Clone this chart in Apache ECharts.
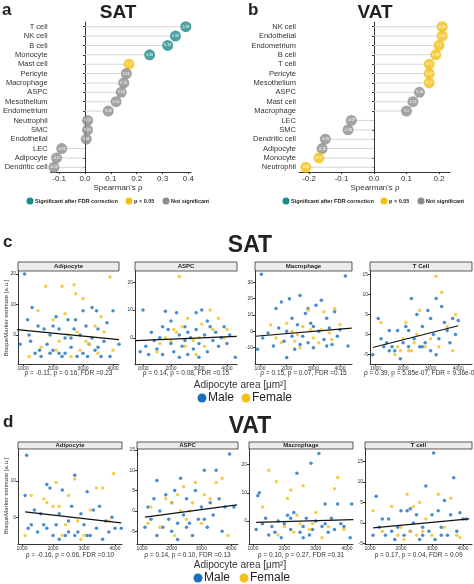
<!DOCTYPE html>
<html><head><meta charset="utf-8">
<script src="https://cdn.jsdelivr.net/npm/echarts@6/dist/echarts.min.js"></script>
<style>html,body{margin:0;padding:0;background:#fff}#c{width:474px;height:584px}</style>
</head><body><div id="c"></div>
<script>
// ---------- DATA ----------
const satCells = ["T cell","NK cell","B cell","Monocyte","Mast cell","Pericyte","Macrophage","ASPC","Mesothelium","Endometrium","Neutrophil","SMC","Endothelial","LEC","Adipocyte","Dendritic cell"];
const satRho = [0.39,0.35,0.32,0.25,0.17,0.16,0.15,0.14,0.12,0.09,0.01,0.01,0.005,-0.09,-0.11,-0.12];
const satSig = ["fdr","fdr","fdr","fdr","p","ns","ns","ns","ns","ns","ns","ns","ns","ns","ns","ns"];
const vatCells = ["NK cell","Endothelial","Endometrium","B cell","T cell","Pericyte","Mesothelium","ASPC","Mast cell","Macrophage","LEC","SMC","Dendritic cell","Adipocyte","Monocyte","Neutrophil"];
const vatRho = [0.21,0.21,0.2,0.19,0.17,0.17,0.17,0.14,0.12,0.1,-0.07,-0.08,-0.15,-0.16,-0.17,-0.21];
const vatSig = ["p","p","p","p","p","p","p","ns","ns","ns","ns","ns","ns","ns","p","p"];
const sigLabels = ["Significant after FDR correction","p < 0.05","Not significant"];

const panelTitles = ["Adipocyte","ASPC","Macrophage","T Cell","Adipocyte","ASPC","Macrophage","T cell"];
const statTexts = ["ρ = -0.11, p = 0.16, FDR =0.23","ρ = 0.14, p = 0.08, FDR =0.15","ρ = 0.15, p = 0.07, FDR =0.15","ρ = 0.39, p = 5.85e-07, FDR = 9.36e-06",
"ρ = -0.16, p = 0.06, FDR =0.10","ρ = 0.14, p = 0.10, FDR =0.13","ρ = 0.10, p = 0.27, FDR =0.31","ρ = 0.17, p = 0.04, FDR = 0.09"];
const xTicks = [1000,2000,3000,4000];
const yTicks = [[0,10,20],[0,10,20],[-10,0,10,20,30],[-5,0,5,10,15],[0,10],[-5,0,5,10,15],[0,10,20],[-5,0,5,10,15]];
const fitLines = [
 [[800,1.8],[4200,-1.5]],[[750,-1],[4350,0.5]],[[820,-3],[4440,2]],[[900,-3.2],[4000,2.2]],
 [[1100,1.5],[4200,-1.5]],[[1100,-1.5],[4200,1.5]],[[1100,-0.5],[4200,0.5]],[[1100,-1.2],[4200,1]]];
const male = [
[[1050,20],[900,-3],[1150,5],[1200,0],[1300,9],[1250,-2],[1500,3],[1550,-5],[1600,-7],[1700,2],[1800,-3],[1900,0],[2000,-5],[2100,6],[2200,-6],[2300,-7],[2400,-1],[2500,5],[2600,-4],[2700,2],[2800,-7],[2900,0],[3000,-6],[3000,8],[3100,3],[3200,-3],[3300,9],[3400,-5],[3500,2],[3600,-7],[3700,-2],[3800,4],[3900,-7],[4000,8],[4200,-3],[2200,2],[2600,-1],[3300,-1],[1900,-6],[3500,-4],[2400,-6],[2750,5],[3150,-7],[3450,8],[1400,-6],[2000,3]],
[[1000,10],[900,-5],[1100,-3],[1200,-6],[1300,2],[1400,-1],[1500,-4],[1600,0],[1700,-6],[1800,9.5],[1900,3],[2000,-2],[2000,6],[2100,-5],[2200,9],[2300,1],[2400,-3],[2500,4],[2600,-6],[2600,2],[2700,0],[2800,-4],[2900,3],[2900,9],[3000,-2],[3100,10],[3200,1],[3300,-5],[3400,4],[3500,-1],[3600,2],[3700,-3],[3800,0],[3900,4],[4000,-2],[4100,1],[4300,-7],[2300,-7],[3000,-7],[1700,4],[2500,-1],[3300,6]],
[[1050,35],[900,-11],[1100,-4],[1300,-1],[1500,-9],[1600,14],[1700,2],[1800,18],[1900,-6],[2000,-16],[2100,20],[2200,8],[2300,-11],[2400,4],[2500,22],[2600,-3],[2700,11],[2800,-7],[2900,5],[3000,-10],[3100,16],[3200,0],[3300,19],[3400,-5],[3500,8],[3600,2],[3700,-8],[3800,12],[3900,-3],[4000,1],[4200,34],[4300,-9],[2000,0],[2500,-8],[3000,3],[3500,-9],[2200,-3],[2800,14]],
[[900,-5],[1100,4],[1200,-1],[1300,-3],[1400,-2],[1500,1],[1600,-3],[1700,-4],[1800,1],[1900,-6],[2000,-2],[2100,2],[2200,-3],[2300,9],[2400,-1],[2500,5],[2600,-3],[2700,2],[2800,-2],[2900,6],[3000,-4],[3100,0],[3200,9],[3300,-1],[3400,7],[3500,3],[3600,1],[3700,-2],[3800,4],[3900,0],[4000,3.5],[2200,1],[2700,-3],[3200,-5],[1500,-4],[3000,4]],
[[1100,6],[1150,17],[1200,-3],[1300,-2],[1400,2],[1500,-4],[1600,1],[1700,-2],[1800,9],[1900,8],[2000,-5],[2100,-2],[2200,-6],[2300,7.5],[2400,-5],[2500,-1],[2600,3],[2700,11.5],[2800,-4],[2900,1],[3000,-2],[3100,7],[3200,-5],[3300,2],[3400,-3],[3500,3],[3600,-6],[3700,-1],[3800,-4],[3900,0],[4000,-3],[4200,-3],[2200,1],[2700,-5],[3100,-5],[1800,-3],[2500,-4]],
[[1100,-4],[1200,1],[1300,-2],[1400,3],[1500,7.5],[1500,-6],[1600,0],[1700,-4],[1800,4],[1900,-2],[2000,-5],[2100,5],[2200,-7],[2300,8],[2400,-1],[2500,3],[2600,-3],[2700,-6],[2800,5],[2900,-2],[3000,1],[3100,10],[3200,-4],[3300,2],[3400,-1],[3500,10],[3600,3],[3700,-5],[3800,1],[3950,14],[4100,1],[2200,-3],[2500,-4],[3100,-2],[2000,2]],
[[1100,-3],[1150,9],[1200,10],[1300,-1],[1400,1],[1500,-5],[1600,-2],[1700,-4],[1800,0],[1900,-6],[2000,-1],[2100,2],[2200,-3],[2300,3],[2400,17],[2500,-4],[2600,-2],[2700,1],[2800,-5],[2850,20.5],[2900,-3],[3000,0],[3100,24],[3200,-2],[3300,6],[3400,-4],[3500,1],[3600,-3],[3700,6],[3800,-1],[3900,-2],[4100,-6],[4150,6],[2200,1],[2600,-6],[3300,-1]],
[[1100,-3],[1200,6.5],[1300,-1],[1400,1],[1500,-3],[1600,1],[1700,-2],[1800,-4],[1900,-1],[2000,3],[2100,-3],[2200,3],[2300,-2],[2400,0],[2500,2],[2600,-4],[2700,-1],[2800,9],[2900,-2],[3000,2],[3050,17],[3100,-4],[3200,3],[3300,-1],[3400,5.5],[3500,-3],[3600,2],[3700,11],[3800,-2],[3900,2.5],[4000,1],[4100,1],[2300,3.5],[2700,-3],[3300,-3]]];
const female = [
[[1200,-7],[1500,8],[1750,16],[2000,5],[2300,16],[2500,0],[2600,-7],[2700,16.5],[2750,13.5],[2900,-5],[3000,12],[3200,-3],[3400,3],[3600,6],[3900,19],[4000,-5],[1600,-4],[2200,-2],[2400,7],[2800,1],[3100,-2],[3500,-6],[3700,1],[2100,-5]],
[[2300,22],[1500,-5],[1800,0],[2000,-1],[2200,2],[2400,4],[2500,-3],[2600,7],[2800,-1],[3000,0],[3200,-3],[3400,10],[3500,3],[3700,7],[3900,0],[2900,-6],[2100,3],[3100,5],[4000,3],[1600,-2]],
[[1400,4],[1600,-4],[1800,-7],[2000,5],[2200,0],[2400,-2],[2500,-10],[2600,3],[2800,13],[3000,-4],[3200,-7],[3400,12],[3600,-1],[3800,14],[4000,4],[2900,1],[2300,-6],[3300,1],[3700,-5]],
[[1200,3],[1700,-5],[1800,-3],[2000,-1],[2100,3],[2200,-4],[2400,-2],[2500,0],[2600,6],[2800,-3],[3000,-1],[3200,14.5],[3300,-3],[3400,10.5],[3600,2],[3800,-4],[3900,5],[2300,-4],[1900,-4]],
[[1100,-5],[1300,6],[1700,5],[1800,4],[2000,3],[2100,9.5],[2300,-5],[2500,6],[2700,10.5],[2800,-1],[3000,-5],[3200,2],[3400,8],[3600,8],[3800,-1],[3950,12],[2400,-2],[2900,-6],[2200,3]],
[[1200,-3],[1300,1],[1600,-4],[1800,3],[2000,2],[2100,-6],[2300,0],[2400,6],[2500,-2],[2600,0],[2800,7],[3000,-3],[3100,4],[3300,3],[3500,7],[3700,8],[3900,-6],[2700,2],[2200,4]],
[[1300,5],[1500,18],[1750,14],[1800,-5],[2000,-2],[2100,8],[2200,11],[2300,-4],[2500,-1],[2600,12.5],[2800,-3],[3000,3],[3200,-6],[3400,-2],[3600,11.5],[3700,15.5],[3900,-3],[2400,2],[2900,-1]],
[[1100,3],[1400,-2],[1700,4],[1900,-3],[2000,-1],[2200,7],[2300,-2],[2400,4],[2500,-3],[2600,5],[2700,-2],[2800,1],[3000,-3],[3200,7],[3400,-1],[3600,6],[3800,-3],[3900,-3.5],[2100,-4]]];

// ---------- LAYOUT ----------
const sigColor = {fdr:"#1f8a8a", p:"#f2c014", ns:"#8c8c8c"};
const MALE="#1b6fc2", FEMALE="#f2c21b";
const panels = [
 {l:18,r:119,t:271,b:364,xmin:830,xmax:4200,ymin:-9.5,ymax:21},
 {l:135,r:237,t:271,b:364,xmin:715,xmax:4360,ymin:-9.4,ymax:24},
 {l:255,r:352,t:271,b:364,xmin:810,xmax:4450,ymin:-20,ymax:37},
 {l:370,r:472,t:271,b:364,xmin:800,xmax:4500,ymin:-7.3,ymax:15.8},
 {l:18,r:122,t:449,b:544,xmin:870,xmax:4225,ymin:-7.3,ymax:18.7},
 {l:137,r:238,t:449,b:544,xmin:830,xmax:4236,ymin:-8.1,ymax:15.2},
 {l:249,r:353,t:449,b:544,xmin:870,xmax:4190,ymin:-8.2,ymax:25.6},
 {l:365,r:472,t:449,b:544,xmin:840,xmax:4290,ymin:-5.1,ymax:18}];

const grid=[], xAxis=[], yAxis=[], series=[], graphic=[];
const txt=(x,y,s,o)=>graphic.push({type:'text',x,y,style:Object.assign({text:s,fill:'#222',font:'9px Liberation Sans',textAlign:'left',textVerticalAlign:'middle'},o||{})});

function lolli(idx,cells,rho,sig,l,r,min,max,ticks){
 grid.push({left:l,top:22,width:r-l,height:150});
 xAxis.push({type:'value',gridIndex:idx,min,max,splitLine:{show:false},
  axisLine:{show:true,lineStyle:{color:'#333'}},axisTick:{show:true,length:2,customValues:ticks,lineStyle:{color:'#333'}},
  axisLabel:{customValues:ticks,fontSize:8,color:'#333',margin:3,formatter:v=>v.toFixed(1)}});
 yAxis.push({type:'category',gridIndex:idx,data:cells,inverse:true,
  axisLine:{show:true,lineStyle:{color:'#333'}},axisTick:{show:true,length:2,alignWithLabel:true,interval:0,lineStyle:{color:'#333'}},
  axisLabel:{fontSize:7.5,color:'#333',margin:3,interval:0}});
 series.push({type:'bar',xAxisIndex:idx,yAxisIndex:idx,data:rho,barWidth:1,itemStyle:{color:'#d6d6d6'},silent:true});
 series.push({type:'scatter',xAxisIndex:idx,yAxisIndex:idx,symbolSize:11,
  data:rho.map((v,i)=>({value:[v,cells[i]],itemStyle:{color:sigColor[sig[i]]}})),
  label:{show:true,position:'inside',fontSize:3.5,color:'#fff',fontWeight:'bold',formatter:p=>{const v=p.value[0];return (Math.round(v*100)/100).toFixed(2).replace(/^(-?)0\.(\d)0$/,'$10.$2')}}});
}
lolli(0,satCells,satRho,satSig,45,191,-0.133,0.41,[-0.1,0,0.1,0.2,0.3,0.4]);
lolli(1,vatCells,vatRho,vatSig,299,450,-0.231,0.234,[-0.2,-0.1,0,0.1,0.2]);

panels.forEach((p,i)=>{
 const gi=i+2;
 grid.push({left:p.l,top:p.t,width:p.r-p.l,height:p.b-p.t});
 xAxis.push({type:'value',gridIndex:gi,min:p.xmin,max:p.xmax,splitLine:{show:false},
  axisLine:{show:true,onZero:false,lineStyle:{color:'#333'}},axisTick:{show:true,length:2,customValues:xTicks,lineStyle:{color:'#333'}},
  axisLabel:{customValues:xTicks,fontSize:5,color:'#333',margin:2,formatter:v=>String(v)}});
 yAxis.push({type:'value',gridIndex:gi,min:p.ymin,max:p.ymax,splitLine:{show:false},
  axisLine:{show:true,onZero:false,lineStyle:{color:'#333'}},axisTick:{show:true,length:2,customValues:yTicks[i],lineStyle:{color:'#333'}},
  axisLabel:{customValues:yTicks[i],fontSize:5,color:'#333',margin:2,formatter:v=>String(v)}});
 series.push({type:'scatter',xAxisIndex:gi,yAxisIndex:gi,data:male[i],symbolSize:3.5,itemStyle:{color:MALE}});
 series.push({type:'scatter',xAxisIndex:gi,yAxisIndex:gi,data:female[i],symbolSize:3.5,itemStyle:{color:FEMALE}});
 series.push({type:'line',xAxisIndex:gi,yAxisIndex:gi,data:fitLines[i],symbol:'none',lineStyle:{color:'#111',width:1.2},z:5});
 const st = i<4?262:442;
 graphic.push({type:'rect',shape:{x:p.l,y:st,width:p.r-p.l,height:p.t-st},style:{fill:'#ececec',stroke:'#333',lineWidth:0.8}});
 txt((p.l+p.r)/2,(st+p.t)/2,panelTitles[i],{font:'bold 6px Liberation Sans',textAlign:'center'});
 txt((p.l+p.r)/2,i<4?373:555,statTexts[i],{font:'6.5px Liberation Sans',textAlign:'center',fill:'#333'});
});

txt(2,10,'a',{font:'bold 17px Liberation Sans'});
txt(248,10,'b',{font:'bold 17px Liberation Sans'});
txt(3,242,'c',{font:'bold 17px Liberation Sans'});
txt(3,422,'d',{font:'bold 17px Liberation Sans'});
txt(118,13,'SAT',{font:'bold 19px Liberation Sans',textAlign:'center'});
txt(375,13,'VAT',{font:'bold 19px Liberation Sans',textAlign:'center'});
txt(250,246,'SAT',{font:'bold 23px Liberation Sans',textAlign:'center'});
txt(250,427,'VAT',{font:'bold 23px Liberation Sans',textAlign:'center'});
txt(118,188,"Spearman's ρ",{font:'8px Liberation Sans',textAlign:'center',fill:'#333'});
txt(375,188,"Spearman's ρ",{font:'8px Liberation Sans',textAlign:'center',fill:'#333'});
function sigLegend(xs){
 ['fdr','p','ns'].forEach((k,j)=>{
  graphic.push({type:'circle',shape:{cx:xs[j],cy:201,r:3.5},style:{fill:sigColor[k]}});
  txt(xs[j]+5,201,sigLabels[j],{font:'bold 5.5px Liberation Sans'});
 });
}
sigLegend([30,129,166]);
sigLegend([286,384,421]);
txt(240,385,'Adipocyte area [μm²]',{font:'10px Liberation Sans',textAlign:'center',fill:'#333'});
txt(240,565,'Adipocyte area [μm²]',{font:'10px Liberation Sans',textAlign:'center',fill:'#333'});
function sexLegend(y,xm,xf){
 graphic.push({type:'circle',shape:{cx:xm,cy:y,r:4.5},style:{fill:MALE}});
 txt(xm+6,y,'Male',{font:'12px Liberation Sans'});
 graphic.push({type:'circle',shape:{cx:xf,cy:y,r:4.5},style:{fill:FEMALE}});
 txt(xf+6,y,'Female',{font:'12px Liberation Sans'});
}
sexLegend(398,202,246);
sexLegend(578,198,244);
graphic.push({type:'text',x:6,y:318,rotation:Math.PI/2,style:{text:'BisqueMarker estimate [a.u.]',font:'6px Liberation Sans',fill:'#333',textAlign:'center',textVerticalAlign:'middle'}});
graphic.push({type:'text',x:6,y:496,rotation:Math.PI/2,style:{text:'BisqueMarker estimate [a.u.]',font:'6px Liberation Sans',fill:'#333',textAlign:'center',textVerticalAlign:'middle'}});

const chart=echarts.init(document.getElementById('c'),null,{renderer:'canvas'});
chart.setOption({animation:false,backgroundColor:'#fff',grid,xAxis,yAxis,series,graphic});
</script></body></html>
